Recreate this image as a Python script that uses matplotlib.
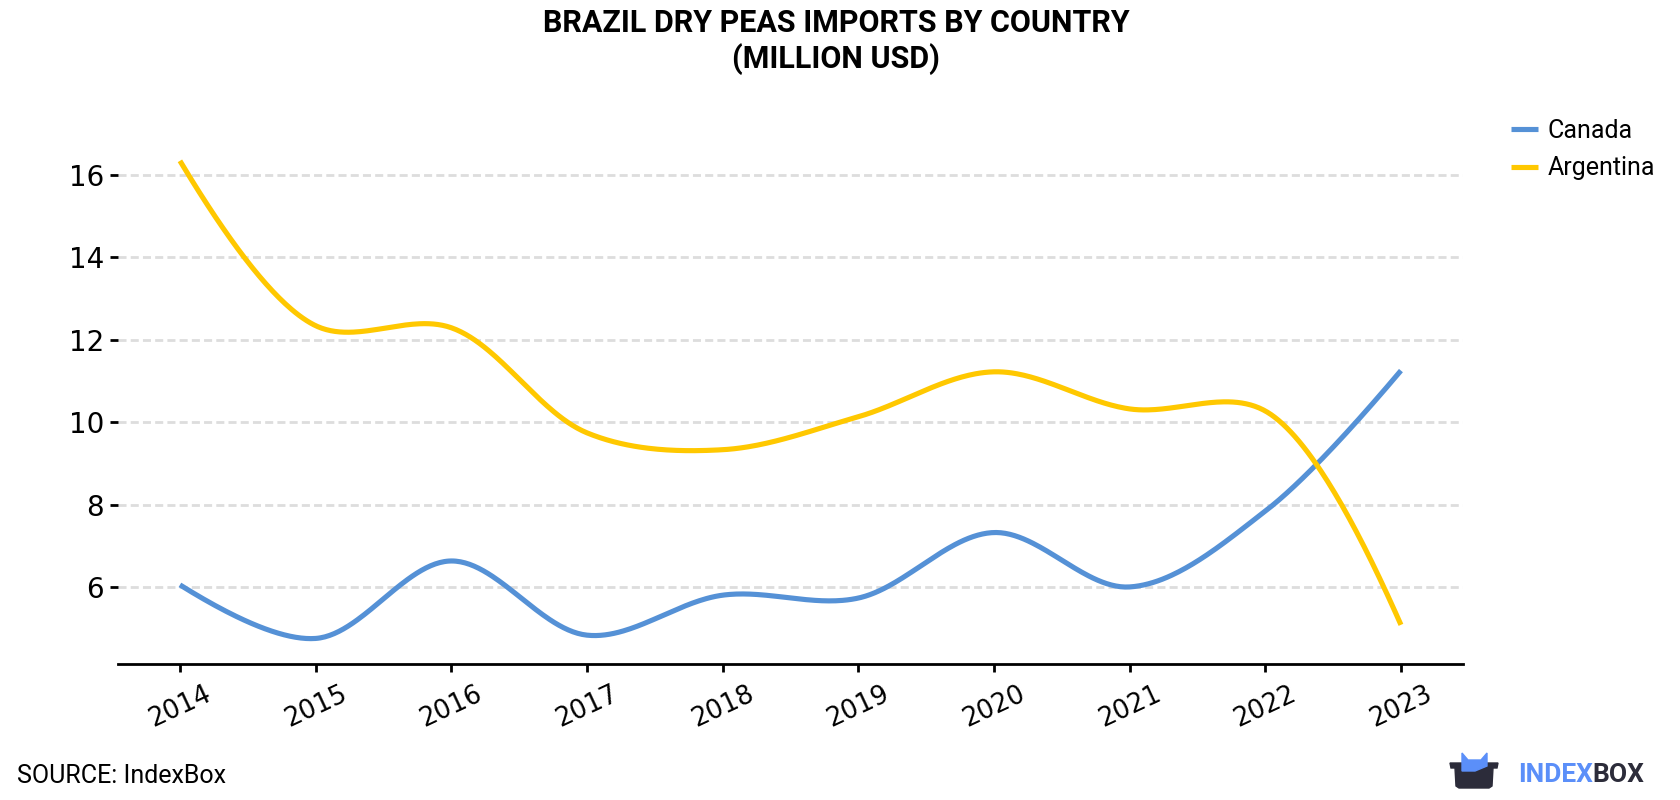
import numpy as np
import matplotlib
matplotlib.use("Agg")
import matplotlib.pyplot as plt
from matplotlib.patches import Polygon

years = [2014, 2015, 2016, 2017, 2018, 2019, 2020, 2021, 2022, 2023]
canada = [6.05, 4.75, 6.63, 4.83, 5.8, 5.73, 7.32, 6.0, 7.84, 11.25]
argentina = [16.34, 12.34, 12.29, 9.74, 9.33, 10.13, 11.22, 10.32, 10.27, 5.08]
yticks = [6, 8, 10, 12, 14, 16]


def tangent(p0, p1, p2):
    # centripetal catmull-rom control points around p1 (screen space)
    d1 = p0 - p1
    d2 = p2 - p1
    a1 = np.hypot(*d1) ** 0.5
    a2 = np.hypot(*d2) ** 0.5
    num = a2 * a2 * d1 - a1 * a1 * d2
    cin = p1 + num / (3 * a2 * (a1 + a2))
    cout = p1 - num / (3 * a1 * (a1 + a2))
    return cin, cout


def smooth(ax, x, y, n=60):
    pts = ax.transData.transform(np.column_stack([x, y]))
    tans = [tangent(pts[i - 1], pts[i], pts[i + 1]) for i in range(1, len(pts) - 1)]
    t = np.linspace(0, 1, n)[:, None]
    segs = []
    # first and last pieces are quadratic
    c = tans[0][0]
    segs.append((1 - t) ** 2 * pts[0] + 2 * (1 - t) * t * c + t ** 2 * pts[1])
    for i in range(2, len(pts) - 1):
        c1 = tans[i - 2][1]
        c2 = tans[i - 1][0]
        segs.append((1 - t) ** 3 * pts[i - 1] + 3 * (1 - t) ** 2 * t * c1
                    + 3 * (1 - t) * t ** 2 * c2 + t ** 3 * pts[i])
    c = tans[-1][1]
    segs.append((1 - t) ** 2 * pts[-2] + 2 * (1 - t) * t * c + t ** 2 * pts[-1])
    out = ax.transData.inverted().transform(np.vstack(segs))
    return out[:, 0], out[:, 1]


def px(x, y):
    return [x / 1680, 1 - y / 800]


fig = plt.figure(figsize=(16.8, 8), dpi=100)
ax = fig.add_axes([0.0702, 0.17, 0.8006, 0.6475])
ax.set_xlim(2014 - 0.457, 2023 + 0.457)
ax.set_ylim(4.13, 16.7)

sx, sy = smooth(ax, years, canada)
ax.plot(sx, sy, color="#5591d6", lw=3.7, label="Canada", solid_capstyle="butt")
sx, sy = smooth(ax, years, argentina)
ax.plot(sx, sy, color="#ffc800", lw=3.7, label="Argentina", solid_capstyle="butt")

ax.set_xticks(years)
ax.set_xticklabels([str(y) for y in years], rotation=25, fontsize=18.5)
ax.set_yticks(yticks)
ax.set_yticklabels([str(v) for v in yticks], fontsize=20)
ax.yaxis.grid(True, color="#dddddd", lw=2, linestyle=(0, (2.9, 1.5)))
ax.set_axisbelow(True)
for s in ["top", "right", "left"]:
    ax.spines[s].set_visible(False)
ax.spines["bottom"].set_linewidth(2)
ax.tick_params(axis="x", length=6, width=2, pad=6)
ax.tick_params(axis="y", length=6, width=2, pad=4)

ax.legend(loc="upper left", bbox_to_anchor=(0.886, 0.880),
          bbox_transform=fig.transFigure, frameon=False,
          prop={"family": "Roboto", "size": 18}, handlelength=1.1,
          handletextpad=0.35, labelspacing=0.55)

fig.text(0.4976, 0.99, "BRAZIL DRY PEAS IMPORTS BY COUNTRY\n(MILLION USD)",
         ha="center", va="top", fontsize=22, fontweight="bold",
         family="Roboto", linespacing=1.2)
fig.text(0.01, 0.021, "SOURCE: IndexBox", fontsize=18, family="Roboto",
         ha="left", va="baseline")

# logo
fig.add_artist(Polygon([px(1450, 763), px(1498, 763), px(1497, 768),
                        px(1493, 768), px(1492, 786), px(1489, 788),
                        px(1459, 788), px(1456, 786), px(1455, 768),
                        px(1451, 768)],
                       closed=True, transform=fig.transFigure,
                       color="#2c2c3a"))
fig.add_artist(Polygon([px(1462, 771), px(1462, 753), px(1468, 760),
                        px(1481, 760), px(1487, 753), px(1487, 766),
                        px(1475, 771)],
                       closed=True, transform=fig.transFigure,
                       color="#5b8ff9"))
t1 = fig.text(1518 / 1680, 0.0225, "INDEX", fontsize=19, fontweight="bold",
              family="Roboto", color="#5b8ff9", ha="left", va="baseline")
fig.canvas.draw()
bb = t1.get_window_extent()
fig.text(bb.x1 / 1680, 0.0225, "BOX", fontsize=19, fontweight="bold",
         family="Roboto", color="#2c2c3a", ha="left", va="baseline")

fig.savefig("out.png", dpi=100)
